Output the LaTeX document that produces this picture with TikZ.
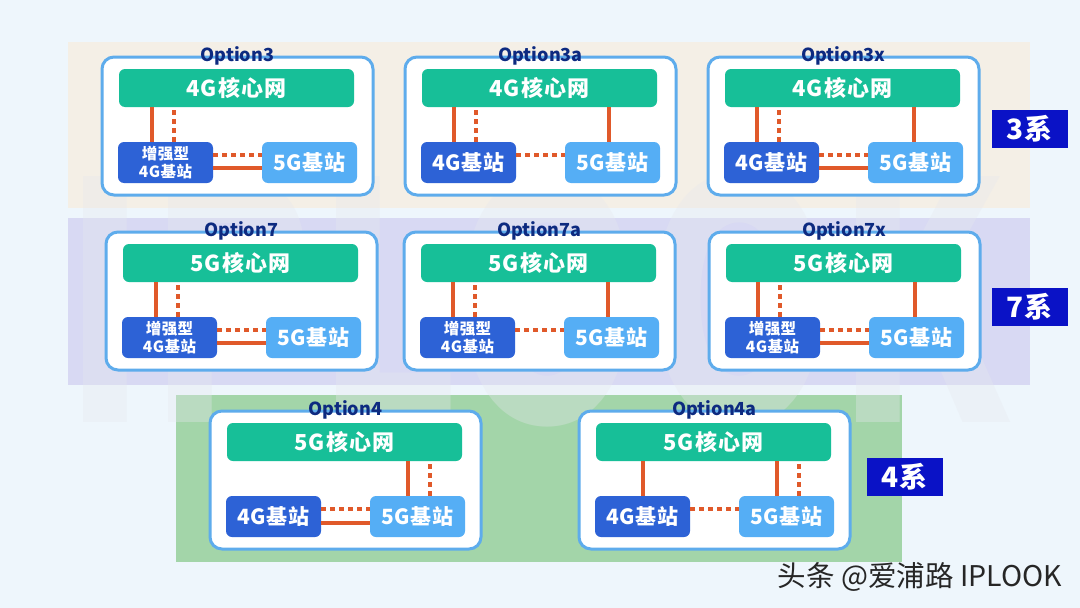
\documentclass[tikz,border=0pt]{standalone}
\usepackage{fontspec}
\setmainfont{Noto Sans CJK SC}
\usetikzlibrary{calc}
\definecolor{bgc}{HTML}{EEF6FC}
\definecolor{band3}{HTML}{F4EFE6}
\definecolor{band7}{HTML}{D8D9F3}
\definecolor{band4}{HTML}{A3D5A9}
\definecolor{panelborder}{HTML}{5EACEC}
\definecolor{coregreen}{HTML}{17BF98}
\definecolor{darkbs}{HTML}{2D62D6}
\definecolor{lightbs}{HTML}{55AEF5}
\definecolor{linkc}{HTML}{E0592A}
\definecolor{navy}{HTML}{0D2A80}
\definecolor{seriesc}{HTML}{0A12C6}
\definecolor{wmc}{HTML}{E6E8EE}
\tikzset{
  panelbox/.style={draw=panelborder, line width=3pt, fill=white, rounded corners=12pt, minimum width=271pt, minimum height=138pt, inner sep=0pt},
  paneltitle/.style={text=navy, font=\bfseries\fontsize{18}{18}\selectfont, inner sep=0pt},
  corebar/.style={fill=coregreen, rounded corners=6pt, minimum width=235pt, minimum height=38pt, inner sep=0pt, text=white, font=\bfseries\fontsize{22}{22}\selectfont\addfontfeature{LetterSpace=6}},
  bsdark/.style={fill=darkbs, rounded corners=6pt, minimum width=95pt, minimum height=41pt, inner sep=0pt, text=white, align=center},
  bslight/.style={fill=lightbs, rounded corners=6pt, minimum width=95pt, minimum height=41pt, inner sep=0pt, text=white, font=\bfseries\fontsize{21}{21}\selectfont\addfontfeature{LetterSpace=3}},
  plainlbl/.style={font=\bfseries\fontsize{21}{21}\selectfont\addfontfeature{LetterSpace=3}},
  enhlbl/.style={font=\bfseries\fontsize{15.5}{18.5}\selectfont\addfontfeature{LetterSpace=3}},
  solidlink/.style={draw=linkc, line width=3.5pt},
  dotlink/.style={draw=linkc, line width=3.5pt, dash pattern=on 5pt off 4pt},
  serieslbl/.style={fill=seriesc, minimum width=76pt, minimum height=38pt, inner sep=0pt, text=white, font=\bfseries\fontsize{28}{28}\selectfont}
}
% #1 name, #2 left x, #3 top y, #4 title, #5 core text, #6 left style, #7 left text
\newcommand\mypanel[7]{%
  \node[panelbox] (#1-box) at ({#2+135.5},{#3+69}) {};
  \node[paneltitle] (#1-title) at ({#2+135.5},{#3-1}) {#4};
  \node[corebar] (#1-core) at ({#2+17+117.5},{#3+12+19}) {#5};
  \node[bsdark,#6] (#1-l) at ({#2+16+47.5},{#3+85+20.5}) {#7};
  \node[bslight] (#1-r) at ({#2+160+47.5},{#3+85+20.5}) {5G基站};
}
% vertical link: #1 style, #2 lower node, #3 core node, #4 offset from lower node left
\newcommand\vlink[4]{%
  \coordinate (tmpv) at ([xshift=#4pt]#2.north west);
  \draw[#1] (tmpv) -- (tmpv |- #3.south);
}
% horizontal link: #1 style, #2 left node, #3 right node, #4 offset from top
\newcommand\hlink[4]{%
  \coordinate (tmph) at ([yshift=-#4pt]#2.north east);
  \draw[#1] (tmph) -- (tmph -| #3.west);
}
\begin{document}
\begin{tikzpicture}[x=1pt,y=-1pt]
\useasboundingbox (0,0) rectangle (1080,608);
\fill[bgc] (0,0) rectangle (1080,608);
% bands
\fill[band3] (68,42) rectangle (1030,208);
\fill[band7] (68,218) rectangle (1030,385);
\fill[band4] (176,395) rectangle (902,562);
% watermark
\node[text=wmc, opacity=0.35, font=\bfseries\fontsize{330}{330}\selectfont, inner sep=0pt, xscale=0.74, anchor=center] (wm) at (535,300) {IPLOOK};
% series labels
\node[serieslbl] (s3) at (1029.5,128.5) {3系};
\node[serieslbl] (s7) at (1029.5,306.5) {7系};
\node[serieslbl] (s4) at (904.5,477) {4系};
% panels
\mypanel{p3}{102}{57}{Option3}{4G核心网}{enhlbl}{增强型\\4G基站}
\mypanel{p3a}{405}{57}{Option3a}{4G核心网}{plainlbl}{4G基站}
\mypanel{p3x}{708}{57}{Option3x}{4G核心网}{plainlbl}{4G基站}
\mypanel{p7}{106}{232}{Option7}{5G核心网}{enhlbl}{增强型\\4G基站}
\mypanel{p7a}{404}{232}{Option7a}{5G核心网}{enhlbl}{增强型\\4G基站}
\mypanel{p7x}{709}{232}{Option7x}{5G核心网}{enhlbl}{增强型\\4G基站}
\mypanel{p4}{210}{411}{Option4}{5G核心网}{plainlbl}{4G基站}
\mypanel{p4a}{579}{411}{Option4a}{5G核心网}{plainlbl}{4G基站}
% links Option3
\vlink{solidlink}{p3-l}{p3-core}{34}
\vlink{dotlink}{p3-l}{p3-core}{56}
\hlink{dotlink}{p3-l}{p3-r}{13}
\hlink{solidlink}{p3-l}{p3-r}{26}
% Option3a
\vlink{solidlink}{p3a-l}{p3a-core}{33}
\vlink{dotlink}{p3a-l}{p3a-core}{55}
\vlink{solidlink}{p3a-r}{p3a-core}{44}
\hlink{dotlink}{p3a-l}{p3a-r}{13}
% Option3x
\vlink{solidlink}{p3x-l}{p3x-core}{33}
\vlink{dotlink}{p3x-l}{p3x-core}{55}
\vlink{solidlink}{p3x-r}{p3x-core}{46}
\hlink{dotlink}{p3x-l}{p3x-r}{13}
\hlink{solidlink}{p3x-l}{p3x-r}{26}
% Option7
\vlink{solidlink}{p7-l}{p7-core}{34}
\vlink{dotlink}{p7-l}{p7-core}{56}
\hlink{dotlink}{p7-l}{p7-r}{13}
\hlink{solidlink}{p7-l}{p7-r}{26}
% Option7a
\vlink{solidlink}{p7a-l}{p7a-core}{33}
\vlink{dotlink}{p7a-l}{p7a-core}{55}
\vlink{solidlink}{p7a-r}{p7a-core}{44}
\hlink{dotlink}{p7a-l}{p7a-r}{13}
% Option7x
\vlink{solidlink}{p7x-l}{p7x-core}{33}
\vlink{dotlink}{p7x-l}{p7x-core}{55}
\vlink{solidlink}{p7x-r}{p7x-core}{46}
\hlink{dotlink}{p7x-l}{p7x-r}{13}
\hlink{solidlink}{p7x-l}{p7x-r}{26}
% Option4
\vlink{solidlink}{p4-r}{p4-core}{38}
\vlink{dotlink}{p4-r}{p4-core}{60}
\hlink{dotlink}{p4-l}{p4-r}{13}
\hlink{solidlink}{p4-l}{p4-r}{27}
% Option4a
\vlink{solidlink}{p4a-l}{p4a-core}{48}
\vlink{solidlink}{p4a-r}{p4a-core}{38}
\vlink{dotlink}{p4a-r}{p4a-core}{60}
\hlink{dotlink}{p4a-l}{p4a-r}{13}
% footer
\node[text=black!85, font=\fontsize{28.5}{28.5}\selectfont, anchor=east, inner sep=0pt] (footer) at (1062,577) {头条 @爱浦路 IPLOOK};
\end{tikzpicture}
\end{document}
